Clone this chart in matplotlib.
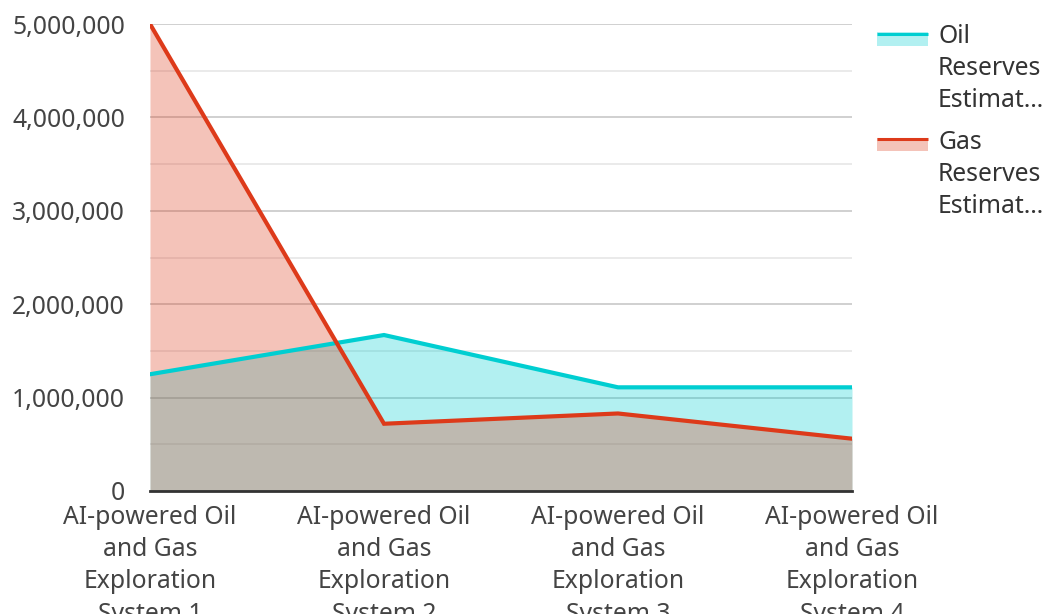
import matplotlib
matplotlib.use("Agg")
import matplotlib.pyplot as plt
from matplotlib.legend_handler import HandlerBase
from matplotlib.patches import Rectangle
from matplotlib.lines import Line2D
from matplotlib.ticker import FuncFormatter, MultipleLocator

plt.rcParams['font.family'] = ['Noto Sans', 'DejaVu Sans']

categories = ["AI-powered Oil\nand Gas\nExploration\nSystem 1",
              "AI-powered Oil\nand Gas\nExploration\nSystem 2",
              "AI-powered Oil\nand Gas\nExploration\nSystem 3",
              "AI-powered Oil\nand Gas\nExploration\nSystem 4"]
oil = [1250000, 1670000, 1110000, 1110000]
gas = [5000000, 720000, 830000, 560000]
series_names = ["Oil\nReserves\nEstimat…", "Gas\nReserves\nEstimat…"]
oil_color = "#00CED1"
gas_color = "#DD3A1A"
FS = 17.8

fig = plt.figure(figsize=(10.42, 6.14), dpi=100)
ax = fig.add_axes([150/1042, 1-491/614, (852-150)/1042, (491-24)/614])

x = list(range(len(categories)))
ax.fill_between(x, oil, 0, color=oil_color, alpha=0.3, linewidth=0, zorder=2)
ax.fill_between(x, gas, 0, color=gas_color, alpha=0.3, linewidth=0, zorder=2)
ax.plot(x, oil, color=oil_color, linewidth=3, zorder=4, solid_joinstyle='miter')
ax.plot(x, gas, color=gas_color, linewidth=3, zorder=5, solid_joinstyle='miter')

ax.set_xlim(0, 3)
ax.set_ylim(0, 5000000)
ax.set_xticks(x)
ax.set_xticklabels(categories, fontsize=FS, color="#444444", linespacing=1.38)
ax.yaxis.set_major_locator(MultipleLocator(1000000))
ax.yaxis.set_minor_locator(MultipleLocator(500000))
ax.yaxis.set_major_formatter(FuncFormatter(lambda v, p: f"{int(v):,}"))
ax.tick_params(axis='y', which='both', length=0, pad=18, labelsize=FS, labelcolor="#444444")
ax.tick_params(axis='x', length=0, pad=10)
ax.grid(axis='y', which='major', color="#c8c8c8", linewidth=1.2, zorder=1)
ax.grid(axis='y', which='minor', color="#e6e6e6", linewidth=1.2, zorder=1)
ax.set_axisbelow(True)
for s in ['left', 'right', 'top']:
    ax.spines[s].set_visible(False)
ax.spines['bottom'].set_color("#333333")
ax.spines['bottom'].set_linewidth(2)
ax.spines['bottom'].set_zorder(6)


class LineFillHandler(HandlerBase):
    def __init__(self, color):
        super().__init__()
        self.color = color

    def create_artists(self, legend, orig_handle, xdescent, ydescent, width, height, fontsize, trans):
        top = height + 20.8
        rect = Rectangle((-xdescent, top - 10), width, 10, facecolor=self.color, alpha=0.3,
                         edgecolor='none', transform=trans)
        line = Line2D([-xdescent, -xdescent + width], [top - 1.1, top - 1.1], color=self.color,
                      linewidth=2.2, transform=trans, solid_capstyle='butt')
        return [rect, line]


h1 = Line2D([], [], color=oil_color)
h2 = Line2D([], [], color=gas_color)
leg = fig.legend([h1, h2], series_names, loc='upper left', bbox_to_anchor=(877/1042, 1-24/614),
                 frameon=False, fontsize=FS, handlelength=2.05, handletextpad=0.42,
                 labelspacing=0.65, labelcolor="#333333", borderpad=0, borderaxespad=0,
                 handler_map={h1: LineFillHandler(oil_color), h2: LineFillHandler(gas_color)})
for t in leg.get_texts():
    t.set_linespacing(1.38)

fig.savefig("out.png", dpi=100)
